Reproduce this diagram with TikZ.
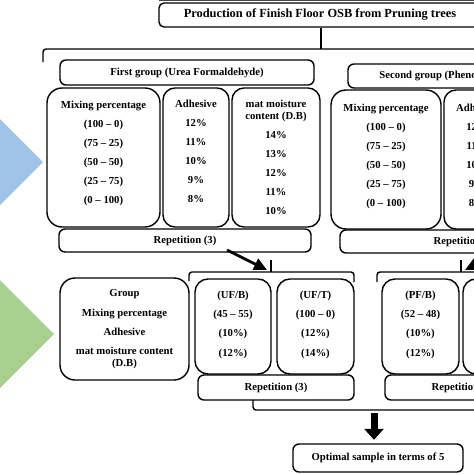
\documentclass[tikz,border=0pt]{standalone}
\usepackage{fontspec}
\setmainfont{Liberation Serif}
\usetikzlibrary{arrows.meta}
\definecolor{arrblue}{RGB}{160,196,232}
\definecolor{arrgreen}{RGB}{168,208,142}
\definecolor{topgray}{RGB}{70,70,70}
\begin{document}
\begin{tikzpicture}[x=1pt,y=-1pt,
  rbox/.style={draw, line width=1.4pt, rounded corners=#1, inner sep=0pt},
  rbox/.default=6pt,
  lbl/.style={font=\bfseries\fontsize{10.7}{12}\selectfont},
  coltext/.style={align=center, inner sep=0pt, anchor=north, font=\bfseries\fontsize{10.7}{19}\selectfont},
  lowtext/.style={align=center, inner sep=0pt, anchor=north, font=\bfseries\fontsize{10.7}{19.4}\selectfont},
  bline/.style={line width=1.4pt, rounded corners=3pt},
  thickarr/.style={line width=2.8pt, -{Triangle[length=13pt,width=12pt]}}
]
\useasboundingbox (0,0) rectangle (474,474);
\clip (0,0) rectangle (474,474);
\fill[white] (0,0) rectangle (474,474);

% left coloured arrows
\fill[arrblue] (43,162) -- (-60,59) -- (-60,265) -- cycle;
\fill[arrgreen] (54,334) -- (-60,220) -- (-60,448) -- cycle;

% top dark line
\draw[topgray, line width=1.6pt] (159,0.6) -- (480,0.6);

% title
\node[rbox=5pt, minimum width=322pt, minimum height=24pt, font=\bfseries\fontsize{12.4}{14}\selectfont] (title) at (320,15) {Production of Finish Floor OSB from Pruning trees};

% top bracket
\coordinate (tbl) at (43,62);
\coordinate (tbc) at (321,49);
\draw[bline] (tbl) -- (43,49) -- (620,49);
\draw[bline] (title.south -| tbc) -- (tbc);

% group headers
\node[rbox=6pt, minimum width=254pt, minimum height=25pt, lbl] (g1) at (187,72.5) {First group (Urea Formaldehyde)};
\node[rbox=6pt, minimum width=236pt, minimum height=24pt, lbl] (g2) at (466,76) {Second group (Phenol Formaldehyde)};

% first group columns
\node[rbox=15pt, minimum width=113pt, minimum height=139pt] (mp1) at (103.5,157.5) {};
\node[coltext] (mp1t) at (103.5,100.5) {Mixing percentage\\(100 – 0)\\(75 – 25)\\(50 – 50)\\(25 – 75)\\(0 – 100)};
\node[rbox=12pt, minimum width=66pt, minimum height=139pt] (ad1) at (196,157.5) {};
\node[coltext] (ad1t) at (196,99.5) {Adhesive\\12\%\\11\%\\10\%\\9\%\\8\%};
\node[rbox=12pt, minimum width=88pt, minimum height=139pt] (mc1) at (276,157.5) {};
\node[coltext] (mc1t) at (276,99.5) {mat moisture\\[-7pt]content (D.B)\\14\%\\13\%\\12\%\\11\%\\10\%};

% second group columns
\node[rbox=15pt, minimum width=110pt, minimum height=139pt] (mp2) at (386,159.5) {};
\node[coltext] (mp2t) at (386,103.5) {Mixing percentage\\(100 – 0)\\(75 – 25)\\(50 – 50)\\(25 – 75)\\(0 – 100)};
\node[rbox=12pt, minimum width=66pt, minimum height=139pt] (ad2) at (477,159.5) {};
\node[coltext] (ad2t) at (477,103.5) {Adhesive\\12\%\\11\%\\10\%\\9\%\\8\%};

% repetitions (upper)
\node[rbox=6pt, minimum width=252pt, minimum height=23pt, lbl] (rep1) at (185,240.5) {Repetition (3)};
\node[rbox=6pt, minimum width=250pt, minimum height=23pt, lbl] (rep2) at (465,241.5) {Repetition (3)};

% lower brackets
\coordinate (tk1) at (271,260);
\coordinate (tk2) at (461,260);
\draw[bline] (189,281) -- (189,272) -- (354,272) -- (354,282);
\draw[bline] (tk1) -- (tk1 |- 0,272);
\draw[bline] (377,282) -- (377,272) -- (620,272);
\draw[bline] (tk2) -- (tk2 |- 0,272);

% thick arrows
\coordinate (a1s) at (227,250);
\coordinate (a1e) at (267,270);
\coordinate (a2s) at (505,250);
\coordinate (a2e) at (465,270);
\draw[thickarr] (a1s) -- (a1e);
\draw[thickarr] (a2s) -- (a2e);

% lower left group box
\node[rbox=15pt, minimum width=129pt, minimum height=102pt] (grp) at (124.5,329) {};
\node[lowtext] (grpt) at (124.5,289.5) {Group\\Mixing percentage\\Adhesive\\mat moisture content\\[-7.4pt](D.B)};

\node[rbox=13pt, minimum width=76pt, minimum height=95pt] (ufb) at (233,326.5) {};
\node[lowtext] (ufbt) at (233,290.5) {(UF/B)\\(45 – 55)\\(10\%)\\(12\%)};
\node[rbox=13pt, minimum width=77pt, minimum height=95pt] (uft) at (315.5,326.5) {};
\node[lowtext] (uftt) at (315.5,290.5) {(UF/T)\\(100 – 0)\\(12\%)\\(14\%)};
\node[rbox=13pt, minimum width=77pt, minimum height=95pt] (pfb) at (420.5,326.5) {};
\node[lowtext] (pfbt) at (420.5,290.5) {(PF/B)\\(52 – 48)\\(10\%)\\(12\%)};
\node[rbox=13pt, minimum width=77pt, minimum height=95pt] (pft) at (501.5,326.5) {};

% repetitions (lower)
\node[rbox=6pt, minimum width=156pt, minimum height=25pt, lbl] (rep3) at (276,387.5) {Repetition (3)};
\node[rbox=6pt, minimum width=156pt, minimum height=25pt, lbl] (rep4) at (463,387.5) {Repetition (3)};

% bottom bracket and arrow
\coordinate (bbl) at (253,400);
\coordinate (db) at (374,413);
\draw[bline] (bbl) -- (253,410) -- (620,410);
\node[rbox=6pt, minimum width=170pt, minimum height=28pt, lbl] (opt) at (378,458) {Optimal sample in terms of 5};
\draw[line width=7pt, -{Triangle[length=11pt,width=19pt]}, shorten >=3.5pt] (db) -- (db |- opt.north);
\end{tikzpicture}
\end{document}
